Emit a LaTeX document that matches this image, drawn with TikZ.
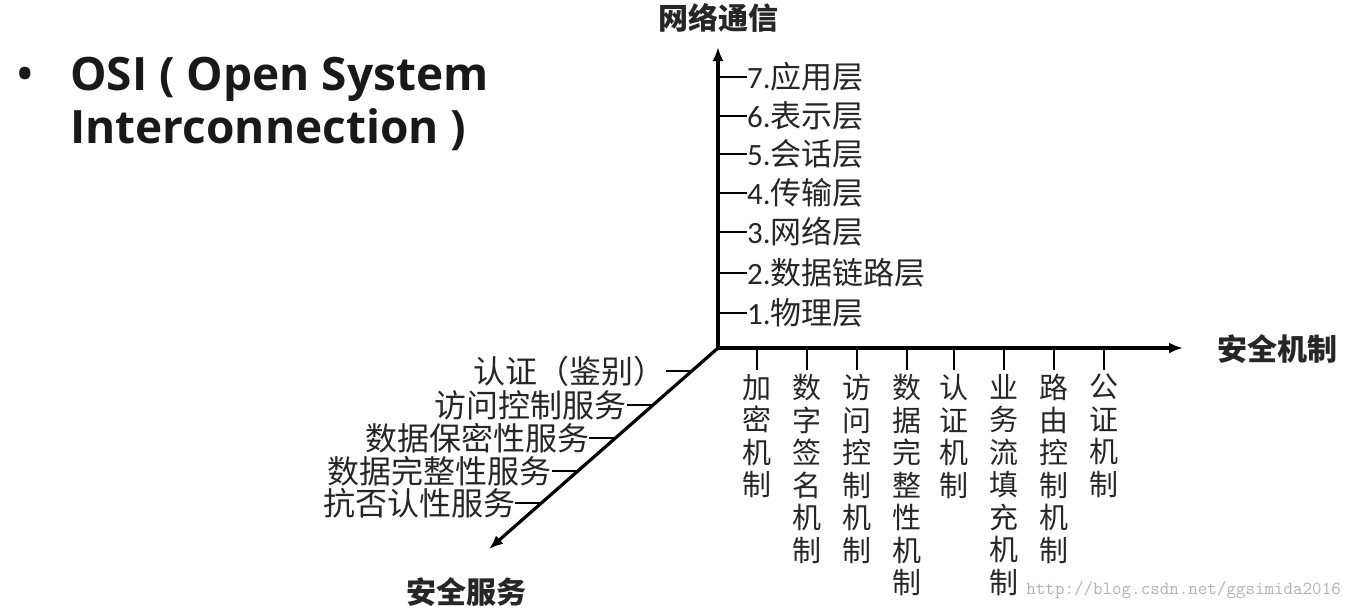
\documentclass[tikz,border=0pt]{standalone}
\usepackage{fontspec}
\setmainfont{Carlito}
\newfontfamily\cjk{Noto Sans CJK SC}
\newfontfamily\osifont{Open Sans}
\usetikzlibrary{calc}
\usetikzlibrary{positioning}
\usetikzlibrary{arrows.meta}

\begin{document}
\begin{tikzpicture}[x=1pt,y=-1pt,>={Latex[length=14pt,width=11pt]},
  axis/.style={line width=3.2pt,->},
  tick/.style={line width=1.8pt},
  layer/.style={font=\fontsize{31}{32}\selectfont,text=black!85,anchor=west,inner sep=0pt},
  svc/.style={font=\cjk\fontsize{32}{32}\selectfont,text=black!85,anchor=east,inner sep=0pt},
  mech/.style={font=\cjk\fontsize{29}{32.5}\selectfont,text=black!85,align=center,anchor=north,inner xsep=0pt,inner ysep=4pt},
  axlabel/.style={font=\cjk\bfseries\fontsize{30}{32}\selectfont,text=black!85,inner sep=0pt}]

\useasboundingbox (0,0) rectangle (1352,611);

\node [font=\osifont\bfseries\fontsize{46}{53}\selectfont,text=black!90,anchor=north west,align=left,inner sep=0pt] (osi) at (70,57) {OSI ( Open System\\Interconnection )};
\node [font=\osifont\fontsize{52}{52}\selectfont,text=black!90,inner sep=0pt] (bul) at (25,80) {\textbullet};

\coordinate (O) at (718,348);
\coordinate (net) at (718,47);
\coordinate (mec) at (1183,348);
\coordinate (ser) at (489,549);

\draw [axis] (O) -- (net);
\draw [axis] (O) -- (mec);
\draw [axis] (O) -- (ser);

\node [axlabel] (netlab) at (718,18) {网络通信};
\node [axlabel,anchor=west] (meclab) at (1217,349) {安全机制};
\node [axlabel] (serlab) at (466,592) {安全服务};

\node [layer] (l7) at (747,77) {7.{\cjk 应用层}};
\node [layer] (l6) at (747,116) {6.{\cjk 表示层}};
\node [layer] (l5) at (747,154) {5.{\cjk 会话层}};
\node [layer] (l4) at (747,193) {4.{\cjk 传输层}};
\node [layer] (l3) at (747,232) {3.{\cjk 网络层}};
\node [layer] (l2) at (747,273) {2.{\cjk 数据链路层}};
\node [layer] (l1) at (747,313) {1.{\cjk 物理层}};

\draw [tick] (l7.west) -- (O |- l7.west);
\draw [tick] (l6.west) -- (O |- l6.west);
\draw [tick] (l5.west) -- (O |- l5.west);
\draw [tick] (l4.west) -- (O |- l4.west);
\draw [tick] (l3.west) -- (O |- l3.west);
\draw [tick] (l2.west) -- (O |- l2.west);
\draw [tick] (l1.west) -- (O |- l1.west);

\node [mech] (m1) at (757,370) {加\\密\\机\\制};
\node [mech] (m2) at (807,370) {数\\字\\签\\名\\机\\制};
\node [mech] (m3) at (857,370) {访\\问\\控\\制\\机\\制};
\node [mech] (m4) at (907,370) {数\\据\\完\\整\\性\\机\\制};
\node [mech] (m5) at (954,370) {认\\证\\机\\制};
\node [mech] (m6) at (1004,370) {业\\务\\流\\填\\充\\机\\制};
\node [mech] (m7) at (1054,370) {路\\由\\控\\制\\机\\制};
\node [mech] (m8) at (1104,370) {公\\证\\机\\制};

\draw [tick] (m1.north) -- (m1.north |- O);
\draw [tick] (m2.north) -- (m2.north |- O);
\draw [tick] (m3.north) -- (m3.north |- O);
\draw [tick] (m4.north) -- (m4.north |- O);
\draw [tick] (m5.north) -- (m5.north |- O);
\draw [tick] (m6.north) -- (m6.north |- O);
\draw [tick] (m7.north) -- (m7.north |- O);
\draw [tick] (m8.north) -- (m8.north |- O);

\coordinate (s1) at ($(O)!0.114!(ser)$);
\coordinate (s2) at ($(O)!0.284!(ser)$);
\coordinate (s3) at ($(O)!0.448!(ser)$);
\coordinate (s4) at ($(O)!0.612!(ser)$);
\coordinate (s5) at ($(O)!0.771!(ser)$);

\node [svc,left=26pt of s1] (v1) {认证（鉴别）};
\node [svc,left=26pt of s2] (v2) {访问控制服务};
\node [svc,left=26pt of s3] (v3) {数据保密性服务};
\node [svc,left=26pt of s4] (v4) {数据完整性服务};
\node [svc,left=26pt of s5] (v5) {抗否认性服务};

\draw [tick] (v1.east) -- (s1);
\draw [tick] (v2.east) -- (s2);
\draw [tick] (v3.east) -- (s3);
\draw [tick] (v4.east) -- (s4);
\draw [tick] (v5.east) -- (s5);

\node [font=\ttfamily\fontsize{18.5}{19}\selectfont,text=black!30,anchor=east,inner sep=0pt] (wm) at (1341,590) {http://blog.csdn.net/ggsimida2016};

\end{tikzpicture}
\end{document}
